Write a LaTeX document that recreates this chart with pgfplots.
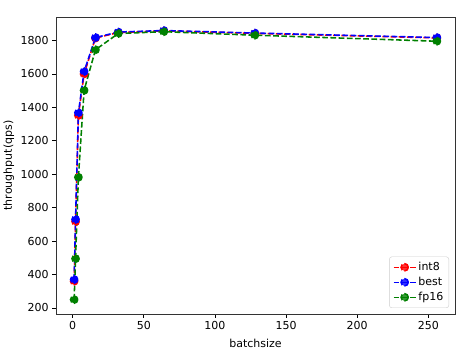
\documentclass[border=0pt]{standalone}
\usepackage{fontspec}
\setmainfont{DejaVu Sans}
\usepackage{pgfplots}
\pgfplotsset{compat=1.18}
\definecolor{mplgreen}{rgb}{0,0.5,0}
\newcommand{\mplfont}{\fontsize{11}{13.2}\selectfont}
\begin{document}
\mplfont
\begin{tikzpicture}
\begin{axis}[
  scale only axis, width=399pt, height=297pt,
  xmin=-11.75, xmax=268.75, ymin=164, ymax=1941,
  xtick={0,50,100,150,200,250}, ytick={200,400,600,800,1000,1200,1400,1600,1800},
  tick align=outside, tick pos=left, major tick length=3.6pt,
  every tick/.style={black, line width=0.8pt},
  axis line style={line width=0.9pt, black!80},
  /pgf/number format/assume math mode=true,
  /pgf/number format/1000 sep={},
  ticklabel style={font=\mplfont},
  label style={font=\mplfont},
  xlabel={batchsize}, ylabel={throughput(qps)},
  xlabel style={at={(axis description cs:0.5,-0.098)}, anchor=center},
  ylabel style={at={(axis description cs:-0.118,0.5)}, anchor=center},
  legend style={at={(1,0)}, anchor=south east, xshift=-6pt, yshift=6pt,
    draw=black!20, rounded corners=2.5pt, fill=white, fill opacity=0.8, text opacity=1,
    font=\mplfont, inner sep=3.5pt, row sep=1pt, nodes={inner sep=2pt}},
  legend cell align=left,
  legend image code/.code={\draw[#1, mark repeat=2, mark phase=2] plot coordinates {(0pt,0pt)(11pt,0pt)(22pt,0pt)};},
  every axis plot/.append style={line width=1.55pt, dash pattern=on 5.7pt off 2.5pt, mark=*, mark size=3.6pt, mark options={solid, line width=0.3pt}},
]
\addplot[red, mark options={fill=red, draw=red}] coordinates {
  (1,360) (2,717) (4,1352) (8,1600) (16,1815) (32,1848) (64,1858) (128,1843) (256,1816)};
\addlegendentry{int8}
\addplot[blue, mark options={fill=blue, draw=blue}] coordinates {
  (1,370) (2,730) (4,1368) (8,1615) (16,1818) (32,1851) (64,1860) (128,1845) (256,1818)};
\addlegendentry{best}
\addplot[mplgreen, mark options={fill=mplgreen, draw=mplgreen}] coordinates {
  (1,250) (2,495) (4,982) (8,1502) (16,1745) (32,1842) (64,1853) (128,1832) (256,1796)};
\addlegendentry{fp16}
\end{axis}
\pgfresetboundingbox
\path (current axis.south west) ++(-56pt,-39pt) rectangle ++(474pt,353pt);
\end{tikzpicture}
\end{document}
